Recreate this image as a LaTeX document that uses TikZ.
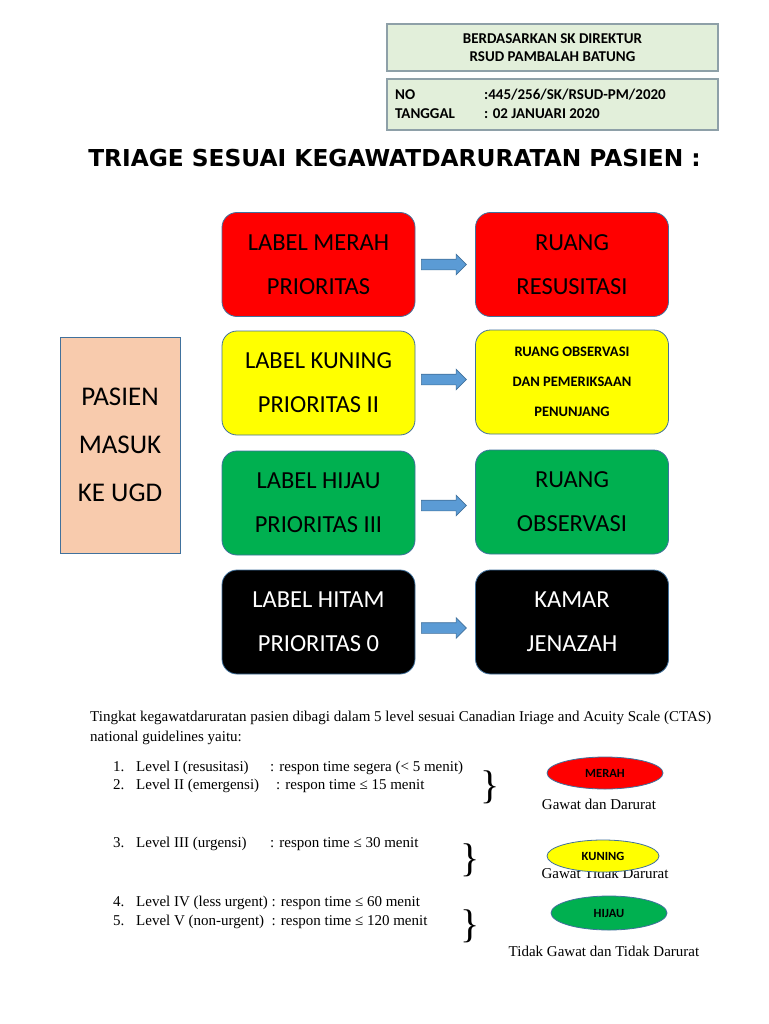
\documentclass[tikz,border=0pt]{standalone}
\usepackage{fontspec}
\setmainfont{Liberation Serif}
\newfontfamily\calfont{Carlito}
\newfontfamily\headfont{DejaVu Sans}
\usepackage{tikz}
\usetikzlibrary{arrows.meta,positioning,calc,shapes.geometric,shapes.arrows}
\definecolor{hdrfill}{HTML}{E2EFDA}
\definecolor{hdrline}{HTML}{8EA0A8}
\definecolor{edgeblue}{HTML}{41719C}
\definecolor{arrowblue}{HTML}{5B9BD5}
\definecolor{peach}{HTML}{F8CBAD}
\definecolor{redbox}{HTML}{FF0000}
\definecolor{yellowbox}{HTML}{FFFF00}
\definecolor{greenbox}{HTML}{00B050}

\begin{document}
\begin{tikzpicture}[x=1pt,y=-1pt,
    hdr/.style={draw=hdrline,fill=hdrfill,line width=1.2pt,minimum width=331,inner sep=0},
    hdrtext/.style={anchor=west,inner sep=0,font=\calfont\bfseries\fontsize{15}{18}\selectfont},
    label/.style={draw=edgeblue,line width=0.8pt,rounded corners=15pt,minimum width=193,minimum height=104,align=center,inner sep=0,
        font=\calfont\fontsize{24.5}{44}\selectfont},
    blockarrow/.style={single arrow,draw=edgeblue,fill=arrowblue,line width=0.6pt,minimum height=45,
        single arrow head extend=5pt,inner sep=5pt,xshift=-4pt},
    level/.style={anchor=base west,inner sep=0,font=\fontsize{15}{18}\selectfont},
    tag/.style={ellipse,draw=edgeblue,line width=0.8pt,minimum width=114,minimum height=32,inner sep=0,
        font=\calfont\bfseries\fontsize{12.5}{14}\selectfont},
    brace/.style={inner sep=0,font=\fontsize{40}{40}\selectfont}]
\useasboundingbox[fill=white](0,0) rectangle (768,1024);

\node[hdr,minimum height=47,align=center,font=\calfont\bfseries\fontsize{15}{18}\selectfont](sk) at (552.5,47.5){BERDASARKAN SK DIREKTUR\\RSUD PAMBALAH BATUNG};
\node[hdr,minimum height=51](nobox) at (552.5,104.5){};
\node[hdrtext](no) at (395,95){NO};
\node[hdrtext](tgl) at (395,114){TANGGAL};
\node[hdrtext](nosk) at (484,95){:445/256/SK/RSUD-PM/2020};
\node[hdrtext](tglval) at (484,114){: 02 JANUARI 2020};

\node[font=\headfont\bfseries\fontsize{23.3}{26}\selectfont,inner sep=0](title) at (394.5,158){TRIAGE SESUAI KEGAWATDARURATAN PASIEN :};

\node[draw=edgeblue,fill=peach,line width=0.8pt,minimum width=120,minimum height=216,align=center,inner sep=0,
    font=\calfont\fontsize{27}{48}\selectfont](ugd) at (120,445){PASIEN\\MASUK\\KE UGD};

\node[label,fill=redbox](lmerah) at (318.5,264.5){LABEL MERAH\\PRIORITAS};
\node[label,fill=yellowbox](lkuning) at (318.5,383){LABEL KUNING\\PRIORITAS II};
\node[label,fill=greenbox](lhijau) at (318.5,503){LABEL HIJAU\\PRIORITAS III};
\node[label,fill=black,text=white](lhitam) at (318.5,622){LABEL HITAM\\PRIORITAS 0};

\node[label,fill=redbox](rmerah) at (572,264.5){RUANG\\RESUSITASI};
\node[label,fill=yellowbox,font=\calfont\bfseries\fontsize{14.5}{30}\selectfont](rkuning) at (572,382){RUANG OBSERVASI\\DAN PEMERIKSAAN\\PENUNJANG};
\node[label,fill=greenbox](rhijau) at (572,502){RUANG\\OBSERVASI};
\node[label,fill=black,text=white](rhitam) at (572,622){KAMAR\\JENAZAH};

\node[blockarrow](a1) at ($(lmerah.east)!0.5!(rmerah.west)$){};
\node[blockarrow,yshift=3pt](a2) at ($(lkuning.east)!0.5!(rkuning.west)$){};
\node[blockarrow,yshift=-3pt](a3) at ($(lhijau.east)!0.5!(rhijau.west)$){};
\node[blockarrow,yshift=-6pt](a4) at ($(lhitam.east)!0.5!(rhitam.west)$){};

\node[level](intro1) at (90,721){Tingkat kegawatdaruratan pasien dibagi dalam 5 level sesuai Canadian Iriage and Acuity Scale (CTAS)};
\node[level](intro2) at (90,741){national guidelines yaitu:};

\node[level](n1) at (113,771){1.};
\node[level](l1) at (136,771){Level I (resusitasi)};
\node[level](r1) at (270,771){: respon time segera (< 5 menit)};
\node[level](n2) at (113,789){2.};
\node[level](l2) at (136,789){Level II (emergensi)};
\node[level](r2) at (276,789){: respon time ≤ 15 menit};
\node[level](n3) at (113,847){3.};
\node[level](l3) at (136,847){Level III (urgensi)};
\node[level](r3) at (270,847){: respon time ≤ 30 menit};
\node[level](n4) at (113,906){4.};
\node[level](l4) at (136,906){Level IV (less urgent) : respon time ≤ 60 menit};
\node[level](n5) at (113,925){5.};
\node[level](l5) at (136,925){Level V (non-urgent)\ \ : respon time ≤ 120 menit};

\node[brace](b1) at (490,787){\}};
\node[brace](b2) at (470,860){\}};
\node[brace](b3) at (470,926){\}};

\node[inner sep=0,font=\fontsize{15}{18}\selectfont](k1) at (599,804){Gawat dan Darurat};
\node[inner sep=0,font=\fontsize{15}{18}\selectfont](k2) at (605,873){Gawat Tidak Darurat};
\node[inner sep=0,font=\fontsize{15}{18}\selectfont](k3) at (604,951){Tidak Gawat dan Tidak Darurat};

\node[tag,fill=redbox,minimum width=116](merah) at (605,773){MERAH};
\node[tag,fill=yellowbox,minimum width=112](kuning) at (603,856){KUNING};
\node[tag,fill=greenbox,minimum width=116,minimum height=34](hijau) at (609,913){HIJAU};
\end{tikzpicture}
\end{document}
